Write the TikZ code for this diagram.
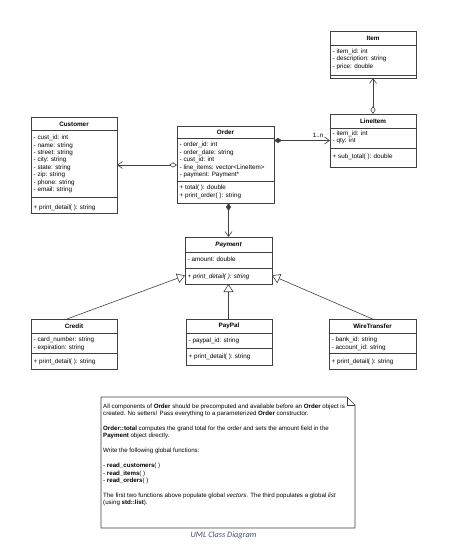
\documentclass[tikz,border=0pt]{standalone}
\usepackage{fontspec}
\setmainfont{Liberation Sans}
\newfontfamily\capfont{Carlito}
\usetikzlibrary{arrows.meta}
\definecolor{ln}{HTML}{404040}
\definecolor{capc}{HTML}{44546A}
\tikzset{
  cls/.style={draw=ln, line width=0.7pt, fill=white, inner sep=0pt, outer sep=0pt, anchor=north west},
  sepl/.style={draw=ln, line width=0.6pt},
  ttl/.style={font=\fontsize{6.3}{7}\selectfont\bfseries, inner sep=0pt},
  txt/.style={font=\fontsize{6.3}{7.5}\selectfont, inner sep=0pt, anchor=west, text height=4.6pt, text depth=1.3pt},
  conn/.style={draw=ln, line width=0.6pt},
  barb/.tip={Straight Barb[length=5pt,width=7pt]},
  odia/.tip={Diamond[open,length=8pt,width=5pt,fill=white]},
  fdia/.tip={Diamond[length=8pt,width=5pt]},
  tri/.tip={Triangle[open,length=8pt,width=10pt,fill=white]},
}
\newcommand\umlbox[7]{%
  \node[cls, minimum width={#4-#2}, minimum height={#7-#3}] (#1) at (#2,#3) {};
  \draw[sepl] (#2,#5) -- (#4,#5);
  \draw[sepl] (#2,#6) -- (#4,#6);
}
\begin{document}
\begin{tikzpicture}[x=1pt,y=-1pt]
\useasboundingbox[fill=white] (0,0) rectangle (474,553);

% Item
\umlbox{item}{330}{31}{416}{45}{75}{78}
\node[ttl] (item-t) at (373,38) {Item};
\node[txt] (item-a1) at (332.5,51.5) {- item\_id: int};
\node[txt] (item-a2) at (332.5,59) {- description: string};
\node[txt] (item-a3) at (332.5,66.5) {- price: double};

% LineItem
\umlbox{lineitem}{330}{114}{416}{128}{148}{167}
\node[ttl] (li-t) at (373,121) {LineItem};
\node[txt] (li-a1) at (332.5,133.5) {- item\_id: int};
\node[txt] (li-a2) at (332.5,141) {- qty: int};
\node[txt] (li-m1) at (332.5,157) {+ sub\_total( ): double};

% Customer
\umlbox{customer}{31}{117}{117}{130}{197}{213}
\node[ttl] (cu-t) at (74,124) {Customer};
\node[txt] (cu-a1) at (33.5,138) {- cust\_id: int};
\node[txt] (cu-a2) at (33.5,145.4) {- name: string};
\node[txt] (cu-a3) at (33.5,152.9) {- street: string};
\node[txt] (cu-a4) at (33.5,160.3) {- city: string};
\node[txt] (cu-a5) at (33.5,167.7) {- state: string};
\node[txt] (cu-a6) at (33.5,175.1) {- zip: string};
\node[txt] (cu-a7) at (33.5,182.6) {- phone: string};
\node[txt] (cu-a8) at (33.5,190) {- email: string};
\node[txt] (cu-m1) at (33.5,207.5) {+ print\_detail( ): string};

% Order
\umlbox{order}{177}{126}{274}{138}{181}{203}
\node[ttl] (or-t) at (225.5,132.5) {Order};
\node[txt] (or-a1) at (179.5,145) {- order\_id: int};
\node[txt] (or-a2) at (179.5,152.5) {- order\_date: string};
\node[txt] (or-a3) at (179.5,160) {- cust\_id: int};
\node[txt] (or-a4) at (179.5,167.5) {- line\_items: vector<LineItem>};
\node[txt] (or-a5) at (179.5,174.5) {- payment: Payment*};
\node[txt] (or-m1) at (179.5,188) {+ total( ): double};
\node[txt] (or-m2) at (179.5,195.5) {+ print\_order( ): string};

% Payment
\umlbox{payment}{185}{237}{272}{252}{268}{284}
\node[ttl, font=\fontsize{6.3}{7}\selectfont\bfseries\itshape] (pa-t) at (228.5,244.5) {Payment};
\node[txt] (pa-a1) at (187.5,259.5) {- amount: double};
\node[txt] (pa-m1) at (187.5,276.5) {+ \textit{print\_detail( ): string}};

% Credit
\umlbox{credit}{31}{319}{117}{333}{353}{369}
\node[ttl] (cr-t) at (74,326) {Credit};
\node[txt] (cr-a1) at (33.5,340) {- card\_number: string};
\node[txt] (cr-a2) at (33.5,347.5) {- expiration: string};
\node[txt] (cr-m1) at (33.5,362) {+ print\_detail( ): string};

% PayPal
\umlbox{paypal}{186}{319}{272}{333}{348}{365}
\node[ttl] (pp-t) at (229,326) {PayPal};
\node[txt] (pp-a1) at (188.5,341) {- paypal\_id: string};
\node[txt] (pp-m1) at (188.5,357) {+ print\_detail( ): string};

% WireTransfer
\umlbox{wire}{329}{319}{416}{333}{353}{369}
\node[ttl] (wt-t) at (372.5,326) {WireTransfer};
\node[txt] (wt-a1) at (331.5,340) {- bank\_id: string};
\node[txt] (wt-a2) at (331.5,347.5) {- account\_id: string};
\node[txt] (wt-m1) at (331.5,362) {+ print\_detail( ): string};

% connectors
\draw[conn, {odia}-{barb}] (lineitem.north) -- (item.south);
\draw[conn, {odia}-{barb}] (order.west |- customer.east) -- (customer.east);
\draw[conn, {fdia}-{barb}] (order.east |- lineitem.west) -- (lineitem.west);
\node[txt, anchor=center] (mult) at (318,135.5) {1..n};
\draw[conn, {fdia}-{barb}] (order.south -| payment.north) -- (payment.north);

\coordinate (pl) at (185,275.5);
\coordinate (pr) at (272,275.5);
\coordinate (crs) at (67,319);
\draw[conn, -{tri}] (crs) -- (pl);
\draw[conn, -{tri}] (paypal.north -| payment.south) -- (payment.south);
\draw[conn, -{tri}] (wire.north) -- (pr);

% note
\draw[conn, fill=white] (101,397) -- (347,397) -- (355,405) -- (355,528) -- (101,528) -- cycle;
\draw[conn] (347,397) -- (347,405) -- (355,405);
\node[anchor=north west, inner sep=0pt, align=left, font=\fontsize{6.15}{7.5}\selectfont] (note) at (103,403.5) {%
All components of \textbf{Order} should be precomputed and available before an \textbf{Order} object is\\
created. No setters! Pass everything to a parameterized \textbf{Order} constructor.\\[7.3pt]
\textbf{Order::total} computes the grand total for the order and sets the amount field in the\\
\textbf{Payment} object directly.\\[7.3pt]
Write the following global functions:\\[7.3pt]
- \textbf{read\_customers}( )\\
- \textbf{read\_items}( )\\
- \textbf{read\_orders}( )\\[7.3pt]
The first two functions above populate global \textit{vectors}. The third populates a global \textit{list}\\
(using \textbf{std::list}).};

\node[font=\capfont\itshape\fontsize{8.3}{9}\selectfont, text=capc, inner sep=0pt] (cap) at (223.5,535) {UML Class Diagram};
\end{tikzpicture}
\end{document}
